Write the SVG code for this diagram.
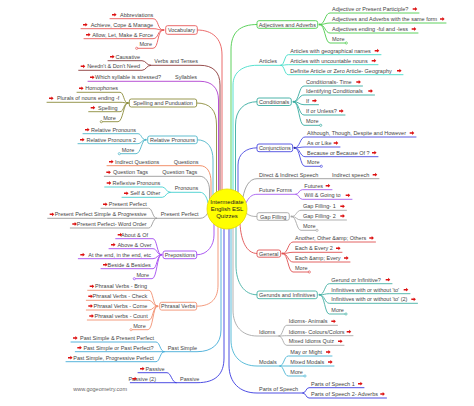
<svg xmlns="http://www.w3.org/2000/svg" width="474" height="406" viewBox="0 0 474 406">
<defs>
<style>
.t{font-family:"Liberation Sans",Arial,Helvetica,sans-serif;font-size:5.5px;fill:#444;stroke:none}
.e{text-anchor:end}
.m{text-anchor:middle}
#connectors path{fill:none;stroke-width:0.9;stroke-linecap:round}
.bx{fill:#fff;stroke-width:0.9}
.mo{fill:#fff;stroke-width:0.7}
.dt{stroke:none}
.ctr{font-family:"Liberation Sans",Arial,Helvetica,sans-serif;font-size:6px;fill:#222;text-anchor:middle;stroke:none}
</style>
<path id="ar" d="M0 -0.7H2.4V-1.9L4.6 0L2.4 1.9V0.7H0Z" fill="#dd1111" stroke="none"/>
</defs>
<rect width="474" height="406" fill="#fff"/>

<g id="connectors">
  <g stroke="#e85a5a">
    <path d="M197.3 30C212 30 222 38 222 55L222 189.6"/>
    <path d="M110 18.7H153C159 18.7 157 30 163 30"/>
    <path d="M81 28.7H153C159 28.7 157 30 163 30"/>
    <path d="M84 38.7H153C159 38.7 157 30 163 30"/>
    <path d="M136.7 48.3H153C159 48.3 157 30 163 30"/>
  </g>
  <g stroke="#8b3a3a">
    <path d="M150.5 65.3H200C213 65.3 220 72 220 85L220 190.3"/>
    <path d="M108 60.7H142C146 60.7 146.5 65.3 150.5 65.3"/>
    <path d="M78.7 70.3H142C146 70.3 146.5 65.3 150.5 65.3"/>
  </g>
  <g stroke="#b040d0">
    <path d="M88 81.3H200C212 81.3 218.5 88 218.5 100L218.5 190.9"/>
  </g>
  <g stroke="#8c8c3c">
    <path d="M196.7 103C210 103 216.5 110 216.5 125L216.5 192"/>
    <path d="M77 92.3H120C124 92.3 123.5 103 127.5 103"/>
    <path d="M47 102.3H121C124 102.3 124 103 127.5 103"/>
    <path d="M88.7 111.7H120C124 111.7 123.5 103 127.5 103"/>
    <path d="M101.3 121.7H118C123 121.7 123.5 103 127.5 103"/>
  </g>
  <g stroke="#4fb6c8">
    <path d="M197.3 139.8C208 139.8 213 148 213 160L213 194.7"/>
    <path d="M83 133.7H138C141.5 133.7 141.5 139.8 145.3 139.8"/>
    <path d="M78 143.7H138C141.5 143.7 141.5 139.8 145.3 139.8"/>
    <path d="M119.3 153.7H136C141 153.7 141.5 139.8 145.3 139.8"/>
  </g>
  <g stroke="#f0845a">
    <path d="M107 165.7H200C207 165.7 211 172 211 182L211 197"/>
  </g>
  <g stroke="#9a9a9a">
    <path d="M104.3 176.3H200C205 176.3 209.5 182 209.5 190L209.5 199.3"/>
  </g>
  <g stroke="#44d0d0">
    <path d="M170 192.3H200C204 192.3 207 197 208 202.8"/>
    <path d="M104.7 187H162.3C166 187 166 192.3 170 192.3"/>
    <path d="M122 197.3H162.3C166 197.3 166 192.3 170 192.3"/>
  </g>
  <g stroke="#9a9a9a">
    <path d="M156.5 218.3H200C204 218.3 206 216 207.5 213.4"/>
    <path d="M101 208.3H148.7C152.5 208.3 152.5 218.3 156.5 218.3"/>
    <path d="M47.7 218.3H156.5"/>
    <path d="M70.3 228H148.7C152.5 228 152.5 218.3 156.5 218.3"/>
  </g>
  <g stroke="#a44cf0">
    <path d="M196.7 254.8C208 254.8 214 245 214 235L214 224.2"/>
    <path d="M115.7 238.7H153C157 238.7 157 254.8 161 254.8"/>
    <path d="M109 248.7H153C157 248.7 157 254.8 161 254.8"/>
    <path d="M78.3 258.7H153C157 258.7 157 254.8 161 254.8"/>
    <path d="M101 268.7H153C157 268.7 157 254.8 161 254.8"/>
    <path d="M134.3 278.7H152C157 278.7 157 254.8 161 254.8"/>
  </g>
  <g stroke="#f29070">
    <path d="M196.7 306.2C212 306.2 218 298 218 285L218 226.9"/>
    <path d="M87.7 290.3H149C153 290.3 153 306.2 157 306.2"/>
    <path d="M86.3 300.3H149C153 300.3 153 306.2 157 306.2"/>
    <path d="M86.3 310H149C153 310 153 306.2 157 306.2"/>
    <path d="M87.3 320H149C153 320 153 306.2 157 306.2"/>
    <path d="M131 329.7H148C153 329.7 153 306.2 157 306.2"/>
  </g>
  <g stroke="#44acd8">
    <path d="M164 351.7H197C212 351.7 221 344 221 330L221 228.1"/>
    <path d="M71 342H156C160 342 160 351.7 164 351.7"/>
    <path d="M75.3 351.7H164"/>
    <path d="M66 361.7H156C160 361.7 160 351.7 164 351.7"/>
  </g>
  <g stroke="#3a3ae0">
    <path d="M176 382.7H197C216 382.7 224 374 224 358L224 228.8"/>
    <path d="M138 372.7H167C171 372.7 172 382.7 176 382.7"/>
    <path d="M130.3 382.7H176"/>
  </g>

  <g stroke="#4ccc4c">
    <path d="M231 189.4L231 50C231 32 240 24.5 257 24.5"/>
    <path d="M320 24.5C325 24.5 325 13 330 13H419"/>
    <path d="M320 24.5C325 24.5 325 23 330 23H446"/>
    <path d="M320 24.5C325 24.5 325 33 330 33H418"/>
    <path d="M320 24.5C325 24.5 325 43 330 43H346.3"/>
  </g>
  <g stroke="#44dcc8">
    <path d="M233 189.9L233 85C233 72 243 65.3 257 65.3H281"/>
    <path d="M281 65.3C284.5 65.3 284.5 54.7 288.3 54.7H381"/>
    <path d="M281 65.3C284.5 65.3 284.5 64.7 288.3 64.7H378"/>
    <path d="M281 65.3C284.5 65.3 284.5 74.7 288.3 74.7H403"/>
  </g>
  <g stroke="#38aca0">
    <path d="M235.5 190.9L235.5 125C235.5 110 244 101.7 257 101.7"/>
    <path d="M294 101.7C299 101.7 299 86 304 86H362.5"/>
    <path d="M294 101.7C299 101.7 299 95 304 95H374.5"/>
    <path d="M294 101.7C299 101.7 299 104.7 304 104.7H318.5"/>
    <path d="M294 101.7C299 101.7 299 115 304 115H345"/>
    <path d="M294 101.7C299 101.7 299 125.3 304 125.3H320.7"/>
  </g>
  <g stroke="#4a4ae0">
    <path d="M238 192.3L238 165C238 154 246 147.8 257 147.8"/>
    <path d="M295 147.8C300 147.8 300 137 305 137H416"/>
    <path d="M295 147.8C300 147.8 300 147 305 147H340"/>
    <path d="M295 147.8C300 147.8 300 156.7 305 156.7H378"/>
    <path d="M295 147.8C300 147.8 300 166.3 305 166.3H321.3"/>
  </g>
  <g stroke="#9a9a9a">
    <path d="M243 197C245 187 249 178.7 257 178.7H379"/>
  </g>
  <g stroke="#a860f0">
    <path d="M246 202.8C249 197 252 194.3 257 194.3H296"/>
    <path d="M296 194.3C299 194.3 299 189.7 302.3 189.7H332"/>
    <path d="M296 194.3C299 194.3 299 199.3 302.3 199.3H352"/>
  </g>
  <g stroke="#a8a8a8">
    <path d="M246.5 213.5C250 216 252 216.5 257 216.5"/>
    <path d="M292 216.5C296.5 216.5 296.5 210.3 301 210.3H346.5"/>
    <path d="M292 216.5C296.5 216.5 296.5 220 301 220H346.5"/>
    <path d="M292 216.5C296.5 216.5 296.5 230.3 301 230.3H317"/>
  </g>
  <g stroke="#e05050">
    <path d="M240 224.2C241 240 246 253.5 257 253.5"/>
    <path d="M283 253.5C288 253.5 288 242 293 242H375.5"/>
    <path d="M283 253.5C288 253.5 288 252.3 293 252.3H342"/>
    <path d="M283 253.5C288 253.5 288 262 293 262H350"/>
    <path d="M283 253.5C288 253.5 288 272 293 272H309.3"/>
  </g>
  <g stroke="#44b0a4">
    <path d="M236 226.9L236 265C236 283 244 294.8 257 294.8"/>
    <path d="M320 294.8C324.7 294.8 324.7 283.7 329.3 283.7H392"/>
    <path d="M320 294.8C324.7 294.8 324.7 293.7 329.3 293.7H410"/>
    <path d="M320 294.8C324.7 294.8 324.7 303.3 329.3 303.3H417.5"/>
    <path d="M320 294.8C324.7 294.8 324.7 314 329.3 314H346"/>
  </g>
  <g stroke="#a8a8a8">
    <path d="M233 228.1L233 310C233 326 242 336 257 336H279"/>
    <path d="M279 336C283 336 283 325.3 286.7 325.3H337.5"/>
    <path d="M279 336C283 336 283 335.7 286.7 335.7H353"/>
    <path d="M279 336C283 336 283 345.3 286.7 345.3H344"/>
  </g>
  <g stroke="#48b4d4">
    <path d="M231 228.6L231 340C231 356 241 366 257 366H280"/>
    <path d="M280 366C284 366 284 356 288.3 356H332"/>
    <path d="M280 366H334"/>
    <path d="M280 366C284 366 284 376 288.3 376H305"/>
  </g>
  <g stroke="#3a3ae0">
    <path d="M229 228.9L229 365C229 383 240 393 257 393H303"/>
    <path d="M303 393C306 393 306 387.7 309 387.7H364"/>
    <path d="M303 393C306 393 306 398 309 398H386.5"/>
  </g>
</g>

<g id="center">
  <circle cx="227" cy="209" r="20" fill="#ffff00" stroke="#e6d800" stroke-width="0.8"/>
  <text class="ctr" x="227" y="204">Intermediate</text>
  <text class="ctr" x="227" y="211">English ESL</text>
  <text class="ctr" x="227" y="218">Quizzes</text>
</g>

<g id="vocabulary" stroke="#e85a5a">
  <rect class="bx" x="165.7" y="25.7" width="31.6" height="8.6" rx="2"/>
  <circle class="dt" cx="163.5" cy="30" r="1" fill="#e85a5a"/>
  <text class="t m" x="181.5" y="32">Vocabulary</text>
  <text class="t e" x="153.3" y="16.7">Abbreviations</text>
  <text class="t e" x="153" y="26.7">Achieve, Cope &amp; Manage</text>
  <text class="t e" x="153" y="36.7">Allow, Let, Make &amp; Force</text>
  <text class="t e" x="152" y="46.3">More</text>
  <circle class="mo" cx="136.7" cy="48.3" r="1.1"/>
  <use href="#ar" x="112" y="14.7"/>
  <use href="#ar" x="83" y="24.7"/>
  <use href="#ar" x="86" y="34.7"/>
</g>

<g id="verbs-tenses">
  <text class="t" x="154.3" y="63.3">Verbs and Tenses</text>
  <text class="t e" x="140" y="58.7">Causative</text>
  <text class="t e" x="140" y="68.3">Needn't &amp; Don't Need</text>
  <use href="#ar" x="110" y="56.7"/>
  <use href="#ar" x="80.7" y="66.3"/>
</g>

<g id="syllables">
  <text class="t" x="175" y="79.3">Syllables</text>
  <text class="t e" x="161" y="79.3">Which syllable is stressed?</text>
  <use href="#ar" x="90" y="77.3"/>
</g>

<g id="spelling" stroke="#8c8c3c">
  <rect class="bx" x="129.3" y="99" width="67.4" height="8" rx="2"/>
  <circle class="dt" cx="128" cy="103" r="1" fill="#8c8c3c"/>
  <text class="t m" x="163" y="105">Spelling and Punduation</text>
  <text class="t e" x="118" y="90.3">Homophones</text>
  <text class="t e" x="119.3" y="100.3">Plurals of nouns ending -f</text>
  <text class="t e" x="117.7" y="109.7">Spelling</text>
  <text class="t e" x="115.7" y="119.7">More</text>
  <circle class="mo" cx="101.3" cy="121.7" r="1.1"/>
  <use href="#ar" x="79" y="88.3"/>
  <use href="#ar" x="49" y="98.3"/>
  <use href="#ar" x="90.7" y="107.7"/>
</g>

<g id="relative-pronouns" stroke="#4fb6c8">
  <rect class="bx" x="147.7" y="136" width="49.6" height="7.7" rx="2"/>
  <circle class="dt" cx="145.8" cy="139.8" r="1" fill="#4fb6c8"/>
  <text class="t m" x="172.5" y="141.8">Relative Pronouns</text>
  <text class="t e" x="136" y="131.7">Relative Pronouns</text>
  <text class="t e" x="136" y="141.7">Relative Pronouns 2</text>
  <text class="t e" x="134.3" y="151.7">More</text>
  <circle class="mo" cx="119.3" cy="153.7" r="1.1"/>
  <use href="#ar" x="85" y="129.7"/>
  <use href="#ar" x="80" y="139.7"/>
</g>

<g id="questions">
  <text class="t" x="173.7" y="163.7">Questions</text>
  <text class="t e" x="159.3" y="163.7">Indirect Questions</text>
  <use href="#ar" x="109" y="161.7"/>
</g>

<g id="question-tags">
  <text class="t" x="162.3" y="174.3">Question Tags</text>
  <text class="t e" x="148" y="174.3">Question Tags</text>
  <use href="#ar" x="106.3" y="172.3"/>
</g>

<g id="pronouns">
  <text class="t" x="174.7" y="190.3">Pronouns</text>
  <text class="t e" x="160.3" y="185">Reflexive Pronouns</text>
  <text class="t e" x="160.3" y="195.3">Self &amp; Other</text>
  <use href="#ar" x="106.7" y="183"/>
  <use href="#ar" x="124" y="193.3"/>
</g>

<g id="present-perfect">
  <text class="t" x="160.7" y="216.3">Present Perfect</text>
  <text class="t e" x="146.7" y="206.3">Present Perfect</text>
  <text class="t e" x="146.7" y="216.3">Present Perfect Simple &amp; Progressive</text>
  <text class="t e" x="146.7" y="226">Present Perfect- Word Order</text>
  <use href="#ar" x="103" y="204.3"/>
  <use href="#ar" x="49.7" y="214.3"/>
  <use href="#ar" x="72.3" y="224"/>
</g>

<g id="prepositions" stroke="#a44cf0">
  <rect class="bx" x="163" y="251" width="33.7" height="7.7" rx="2"/>
  <circle class="dt" cx="161.5" cy="254.8" r="1" fill="#a44cf0"/>
  <text class="t m" x="179.8" y="256.8">Prepositions</text>
  <text class="t e" x="148" y="236.7">About &amp; Of</text>
  <text class="t e" x="151.7" y="246.7">Above &amp; Over</text>
  <text class="t e" x="151" y="256.7">At the end, in the end, etc</text>
  <text class="t e" x="150.7" y="266.7">Beside &amp; Besides</text>
  <text class="t e" x="149" y="276.7">More</text>
  <circle class="mo" cx="134.3" cy="278.7" r="1.1"/>
  <use href="#ar" x="117.7" y="234.7"/>
  <use href="#ar" x="111" y="244.7"/>
  <use href="#ar" x="80.3" y="254.7"/>
  <use href="#ar" x="103" y="264.7"/>
</g>

<g id="phrasal-verbs" stroke="#f29070">
  <rect class="bx" x="159.7" y="302.3" width="37" height="7.8" rx="2"/>
  <circle class="dt" cx="157.5" cy="306.2" r="1" fill="#f29070"/>
  <text class="t m" x="178.2" y="308.2">Phrasal Verbs</text>
  <text class="t e" x="147" y="288.3">Phrasal Verbs - Bring</text>
  <text class="t e" x="147.3" y="298.3">Phrasal Verbs - Check</text>
  <text class="t e" x="147.3" y="308">Phrasal Verbs - Come</text>
  <text class="t e" x="147.7" y="318">Phrasal verbs - Count</text>
  <text class="t e" x="145.7" y="327.7">More</text>
  <circle class="mo" cx="131" cy="329.7" r="1.1"/>
  <use href="#ar" x="89.7" y="286.3"/>
  <use href="#ar" x="88.3" y="296.3"/>
  <use href="#ar" x="88.3" y="306"/>
  <use href="#ar" x="89.3" y="316"/>
</g>

<g id="past-simple">
  <text class="t" x="167.7" y="349.7">Past Simple</text>
  <text class="t e" x="154" y="340">Past Simple &amp; Present Perfect</text>
  <text class="t e" x="153.7" y="349.7">Past Simple or Past Perfect?</text>
  <text class="t e" x="153.7" y="359.7">Past Simple, Progressive Perfect</text>
  <use href="#ar" x="73" y="338"/>
  <use href="#ar" x="77.3" y="347.7"/>
  <use href="#ar" x="68" y="357.7"/>
</g>

<g id="passive">
  <text class="t" x="180" y="380.7">Passive</text>
  <text class="t e" x="164.7" y="370.7">Passive</text>
  <text class="t e" x="156" y="380.7">Passive (2)</text>
  <use href="#ar" x="140" y="368.7"/>
  <use href="#ar" x="132.3" y="378.7"/>
</g>

<g id="credit">
  <text class="t" x="73.3" y="390.7" style="fill:#666">www.gogeometry.com</text>
</g>

<g id="adjectives-adverbs" stroke="#4ccc4c">
  <rect class="bx" x="257" y="20.7" width="60.7" height="7.6" rx="2"/>
  <circle class="dt" cx="319.5" cy="24.5" r="1" fill="#4ccc4c"/>
  <text class="t m" x="287.3" y="26.5">Adjectives and Adverbs</text>
  <text class="t" x="332" y="11">Adjective or Present Participle?</text>
  <text class="t" x="332" y="21">Adjectives and Adverbs with the same form</text>
  <text class="t" x="332" y="31">Adjectives ending -ful and -less</text>
  <text class="t" x="332" y="41">More</text>
  <circle class="mo" cx="346.3" cy="43" r="1.1"/>
  <use href="#ar" x="412.7" y="9"/>
  <use href="#ar" x="440" y="19"/>
  <use href="#ar" x="411.7" y="29"/>
</g>

<g id="articles">
  <text class="t" x="259" y="63.3">Articles</text>
  <text class="t" x="290.3" y="52.7">Articles with geographical names</text>
  <text class="t" x="290.3" y="62.7">Articles with uncountable nouns</text>
  <text class="t" x="290.3" y="72.7">Definite Article or Zero Article- Geography</text>
  <use href="#ar" x="374.7" y="50.7"/>
  <use href="#ar" x="371.7" y="60.7"/>
  <use href="#ar" x="397" y="70.7"/>
</g>

<g id="conditionals" stroke="#38aca0">
  <rect class="bx" x="257" y="98" width="34.3" height="7.5" rx="2"/>
  <circle class="dt" cx="293.5" cy="101.7" r="1" fill="#38aca0"/>
  <text class="t m" x="274.2" y="103.7">Conditionals</text>
  <text class="t" x="306" y="84">Conditionals- Time</text>
  <text class="t" x="306" y="93">Identifying Conditionals</text>
  <text class="t" x="306" y="102.7">If</text>
  <text class="t" x="306" y="113">If or Unless?</text>
  <text class="t" x="306" y="123.3">More</text>
  <circle class="mo" cx="320.7" cy="125.3" r="1.1"/>
  <use href="#ar" x="356.3" y="82"/>
  <use href="#ar" x="368.3" y="91"/>
  <use href="#ar" x="312.3" y="100.7"/>
  <use href="#ar" x="339" y="111"/>
</g>

<g id="conjunctions" stroke="#4a4ae0">
  <rect class="bx" x="257" y="144" width="35.7" height="7.7" rx="2"/>
  <circle class="dt" cx="294.5" cy="147.8" r="1.1" fill="#2a2aa0"/>
  <text class="t m" x="274.8" y="149.8">Conjunctions</text>
  <text class="t" x="307" y="135">Although, Though, Despite and However</text>
  <text class="t" x="307" y="145">As or Like</text>
  <text class="t" x="307" y="154.7">Because or Because Of ?</text>
  <text class="t" x="307" y="164.3">More</text>
  <circle class="mo" cx="321.3" cy="166.3" r="1.1"/>
  <use href="#ar" x="409.7" y="133"/>
  <use href="#ar" x="333.7" y="143"/>
  <use href="#ar" x="372" y="152.7"/>
</g>

<g id="direct-indirect-speech">
  <text class="t" x="259" y="176.7">Direct &amp; Indirect Speech</text>
  <text class="t" x="332" y="176.7">Indirect speech</text>
  <use href="#ar" x="372.7" y="174.7"/>
</g>

<g id="future-forms">
  <text class="t" x="259" y="192.3">Future Forms</text>
  <text class="t" x="304.3" y="187.7">Futures</text>
  <text class="t" x="304.3" y="197.3">Will &amp; Going to</text>
  <use href="#ar" x="325.7" y="185.7"/>
  <use href="#ar" x="345.7" y="195.3"/>
</g>

<g id="gap-filling" stroke="#a8a8a8">
  <rect class="bx" x="257" y="212.7" width="32.3" height="7.6" rx="2"/>
  <circle class="dt" cx="291.5" cy="216.5" r="1" fill="#a8a8a8"/>
  <text class="t m" x="273.2" y="218.5">Gap Filling</text>
  <text class="t" x="303" y="208.3">Gap Filling- 1</text>
  <text class="t" x="303" y="218">Gap Filling- 2</text>
  <text class="t" x="303" y="228.3">More</text>
  <circle class="mo" cx="317" cy="230.3" r="1.1"/>
  <use href="#ar" x="340.3" y="206.3"/>
  <use href="#ar" x="340.3" y="216"/>
</g>

<g id="general" stroke="#e05050">
  <rect class="bx" x="257" y="250" width="23.7" height="7.2" rx="2"/>
  <circle class="dt" cx="282.5" cy="253.5" r="1.1" fill="#e05050"/>
  <text class="t m" x="268.8" y="255.5">General</text>
  <text class="t" x="295" y="240">Another, Other &amp;amp; Others</text>
  <text class="t" x="295" y="250.3">Each &amp; Every 2</text>
  <text class="t" x="295" y="260">Each &amp;amp; Every</text>
  <text class="t" x="295" y="270">More</text>
  <circle class="mo" cx="309.3" cy="272" r="1.1"/>
  <use href="#ar" x="369.3" y="238"/>
  <use href="#ar" x="336" y="248.3"/>
  <use href="#ar" x="344" y="258"/>
</g>

<g id="gerunds-infinitives" stroke="#44b0a4">
  <rect class="bx" x="257" y="291" width="60.3" height="7.7" rx="2"/>
  <circle class="dt" cx="319.5" cy="294.8" r="1" fill="#44b0a4"/>
  <text class="t m" x="287.2" y="296.8">Gerunds and Infinitives</text>
  <text class="t" x="331.3" y="281.7">Gerund or Infinitive?</text>
  <text class="t" x="331.3" y="291.7">Infinitives with or without 'to'</text>
  <text class="t" x="331.3" y="301.3">Infinitives with or without 'to' (2)</text>
  <text class="t" x="331.3" y="312">More</text>
  <circle class="mo" cx="346" cy="314" r="1.1"/>
  <use href="#ar" x="385.7" y="279.7"/>
  <use href="#ar" x="403.7" y="289.7"/>
  <use href="#ar" x="411.3" y="299.3"/>
</g>

<g id="idioms">
  <text class="t" x="259" y="334">Idioms</text>
  <text class="t" x="288.7" y="323.3">Idioms- Animals</text>
  <text class="t" x="288.7" y="333.7">Idioms- Colours/Colors</text>
  <text class="t" x="288.7" y="343.3">Mixed Idioms Quiz</text>
  <use href="#ar" x="331.3" y="321.3"/>
  <use href="#ar" x="346.7" y="331.7"/>
  <use href="#ar" x="338" y="341.3"/>
</g>

<g id="modals" stroke="#48b4d4">
  <text class="t" x="259" y="364">Modals</text>
  <text class="t" x="290.3" y="354">May or Might</text>
  <text class="t" x="290.3" y="364">Mixed Modals</text>
  <text class="t" x="290.3" y="374">More</text>
  <circle class="mo" cx="305" cy="376" r="1.1"/>
  <use href="#ar" x="326" y="352"/>
  <use href="#ar" x="328" y="362"/>
</g>

<g id="parts-of-speech">
  <text class="t" x="259" y="391">Parts of Speech</text>
  <text class="t" x="311" y="385.7">Parts of Speech 1</text>
  <text class="t" x="311" y="396">Parts of Speech 2- Adverbs</text>
  <use href="#ar" x="358" y="383.7"/>
  <use href="#ar" x="380.3" y="394"/>
</g>
</svg>
